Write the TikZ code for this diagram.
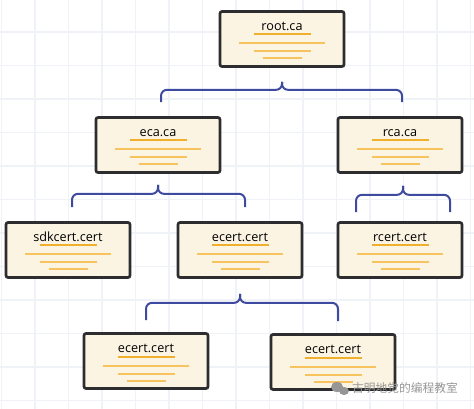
\documentclass[tikz,border=0pt]{standalone}
\usepackage{fontspec}
\setmainfont{Open Sans}
\newfontfamily\cjkfont{Noto Sans CJK SC}
\usepackage{xcolor}
\usetikzlibrary{calc}
\definecolor{boxfill}{RGB}{251, 244, 226}
\definecolor{boxline}{RGB}{45, 45, 48}
\definecolor{rulegold}{RGB}{246, 195, 95}
\definecolor{ruledark}{RGB}{240, 175, 45}
\definecolor{braceblue}{RGB}{62, 74, 160}
\definecolor{gridgray}{RGB}{239, 242, 246}
\definecolor{markgray}{RGB}{150, 150, 150}

\begin{document}
\begin{tikzpicture}[
  x=0.75pt, y=-0.75pt,
  every node/.style={font=\fontsize{9.5}{11}\selectfont},
  box/.style={draw=boxline, line width=2pt, fill=boxfill, rounded corners=1.5pt,
    minimum width=93pt, minimum height=41.25pt, inner ysep=0pt,
    text height=14.25pt, text depth=27pt,
    path picture={
      \draw[ruledark, line width=1.5pt] ([shift={(-28.5,-4.5)}]path picture bounding box.center) -- ++(57,0);
      \draw[rulegold, line width=1.5pt] ([shift={(-43,4.5)}]path picture bounding box.center) -- ++(86,0);
      \draw[rulegold, line width=1.5pt] ([shift={(-28.5,12.5)}]path picture bounding box.center) -- ++(57,0);
      \draw[rulegold, line width=1.5pt] ([shift={(-19.5,19.5)}]path picture bounding box.center) -- ++(39,0);
    }},
  brace/.style={draw=braceblue, line width=1.5pt, rounded corners=4.5pt},
  gridline/.style={draw=gridgray, line width=1.2pt},
  watermark/.style={font=\cjkfont\fontsize{8.8}{10}\selectfont, text=markgray, inner sep=0pt}
]

  % Hintergrund
  \fill[white] (0,0) rectangle (474,409);
  \useasboundingbox (0,0) rectangle (474,409);
  \foreach \i in {0,...,14} {
    \draw[gridline] (1.5+33.5*\i,0) -- (1.5+33.5*\i,409);
  }
  \foreach \i in {1,...,12} {
    \draw[gridline] (0,-1.5+33.5*\i) -- (474,-1.5+33.5*\i);
  }

  % Zertifikate
  \node[box] (root) at (282, 39) {root.ca};
  \node[box] (eca) at (158, 145) {eca.ca};
  \node[box] (rca) at (400, 145) {rca.ca};
  \node[box] (sdk) at (68, 250) {sdkcert.cert};
  \node[box] (ecert) at (240, 250) {ecert.cert};
  \node[box] (rcert) at (400, 250) {rcert.cert};
  \node[box] (ecertl) at (146, 361) {ecert.cert};
  \node[box] (ecertr) at (333, 362) {ecert.cert};

  % Klammern
  \draw[brace] ($(eca.north)+(3,-14)$) |- ($(root.south)+(0,22)$) -- ($(root.south)+(0,14)$);
  \draw[brace] ($(rca.north)+(2,-14)$) |- ($(root.south)+(0,22)$) -- ($(root.south)+(0,14)$);

  \draw[brace] ($(sdk.north)+(4,-14)$) |- ($(eca.south)+(0,20)$) -- ($(eca.south)+(0,11)$);
  \draw[brace] ($(ecert.north)+(5,-14)$) |- ($(eca.south)+(0,20)$) -- ($(eca.south)+(0,11)$);

  \draw[brace] ($(rcert.north)+(-44,-9)$) |- ($(rca.south)+(3,21)$) -- ($(rca.south)+(3,12)$);
  \draw[brace] ($(rcert.north)+(50,-9)$) |- ($(rca.south)+(3,21)$) -- ($(rca.south)+(3,12)$);

  \draw[brace] ($(ecertl.north)+(0,-12)$) |- ($(ecert.south)+(0,24)$) -- ($(ecert.south)+(0,15)$);
  \draw[brace] ($(ecertr.north)+(5,-12)$) |- ($(ecert.south)+(0,24)$) -- ($(ecert.south)+(0,15)$);

  % Wasserzeichen
  \node[watermark] (wm) at (405, 388) {古明地觉的编程教室};
  \fill[markgray] (337, 387) ellipse [x radius=6, y radius=5];
  \fill[markgray] (344, 391) ellipse [x radius=5, y radius=4];

\end{tikzpicture}
\end{document}
